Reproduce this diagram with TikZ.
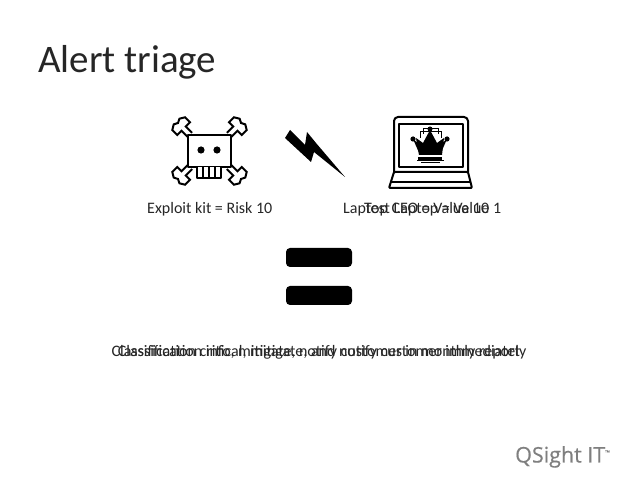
\documentclass[tikz,border=0pt]{standalone}
\usepackage{fontspec}
\setmainfont{Carlito}
\newfontfamily\logofont[FakeBold=0.5]{Open Sans}
\definecolor{mygray}{HTML}{7F7F7F}
\definecolor{myink}{HTML}{262626}
\begin{document}
\begin{tikzpicture}
	[x=1pt,y=-1pt,
	label/.style={anchor=base,inner sep=0pt,font=\fontsize{16}{18}\selectfont,text=myink},
	icon/.style={draw=black,line width=2pt,line join=round},
	solid/.style={fill=black,draw=none}]
	\useasboundingbox (0,0) rectangle (638,478);
	\node[anchor=base west,inner sep=0pt,font=\fontsize{39}{42}\selectfont,text=myink] (title) at (38,73) {Alert triage};

	% skull
	\foreach \x/\y/\r in {190/135/135,229/135/45,190/167/225,229/167/315}
	\draw[icon,line join=miter,fill=white,shift={(\x,\y)},rotate=\r] (0,-3) -- (9,-3) -- (9,-9) -- (16,-9) -- (19,-4) -- (17,0) -- (19,4) -- (16,9) -- (9,9) -- (9,3) -- (0,3);
	\draw[icon,fill=white] (188,135) rectangle (231,167);
	\draw[icon,fill=white] (197,167) -- (197,178) -- (221,178) -- (221,167);
	\foreach \x in {203,209,215}
	\draw[icon] (\x,167) -- (\x,178);
	\foreach \x in {201,217}
	\fill (\x,150) circle (3.6);

	% bolt
	\fill[solid] (285,138) -- (290,130) -- (305,145) -- (307,132) -- (316,143) -- (345,177) -- (314,152) -- (311,162) -- cycle;

	% laptop
	\draw[icon,rounded corners=4pt] (394,172) -- (394,117) -- (468,117) -- (468,172);
	\draw[icon] (399,167) -- (399,124) -- (463,124) -- (463,167) -- cycle;
	\draw[icon,rounded corners=1pt] (394,172) -- (468,172) -- (472,188) -- (389,188) -- cycle;
	\draw[icon] (390,182.500) -- (470,182.500);
	\draw[line width=.8pt] (420,138) -- (420,131) -- (441,131) -- (441,138) (423,134) -- (423,128) -- (438,128) -- (438,134);
	\fill[solid] (430,129) circle (2.5);
	\fill[solid] (430,130) -- (437,143) -- (444,138) -- (442,155) -- (419,155) -- (416,138) -- (423,143) -- cycle;
	\foreach \x in {413,447}
	\fill[solid] (\x,139) circle (2.6);
	\fill[solid] (413,139) -- (419,144) -- (420,155) -- cycle;
	\fill[solid] (447,139) -- (441,144) -- (440,155) -- cycle;
	\fill[solid] (418,157) rectangle (442,160);
	\draw[line width=1pt] (417,161) -- (444,161);
	\fill[solid] (421,162) rectangle (440,163.500);

	% equals
	\foreach \y in {248,286}
	\fill[solid,rounded corners=4pt] (286,\y) rectangle (352,\y+19);

	\node[label,anchor=base west] (risk) at (147,213.500) {Exploit kit = Risk 10};
	\node[label,anchor=base west] (ceo) at (343,213.500) {Laptop CEO = Value 10};
	\node[label,anchor=base west] (test) at (364,213.500) {Test Laptop = Value 1};
	\node[label] (critical) at (319,356.500) {Classification critical, mitigate, and notify customer immediately};
	\node[label] (info) at (319,356.500) {Classification info, mitigate, notify customer in monthly report};
	\node[anchor=base west,inner sep=0pt,font=\logofont\fontsize{21.500}{24}\selectfont,text=mygray] (logo) at (515,462.500) {QSight IT\raisebox{10pt}{\fontsize{3}{3}\selectfont TM}};
\end{tikzpicture}
\end{document}
